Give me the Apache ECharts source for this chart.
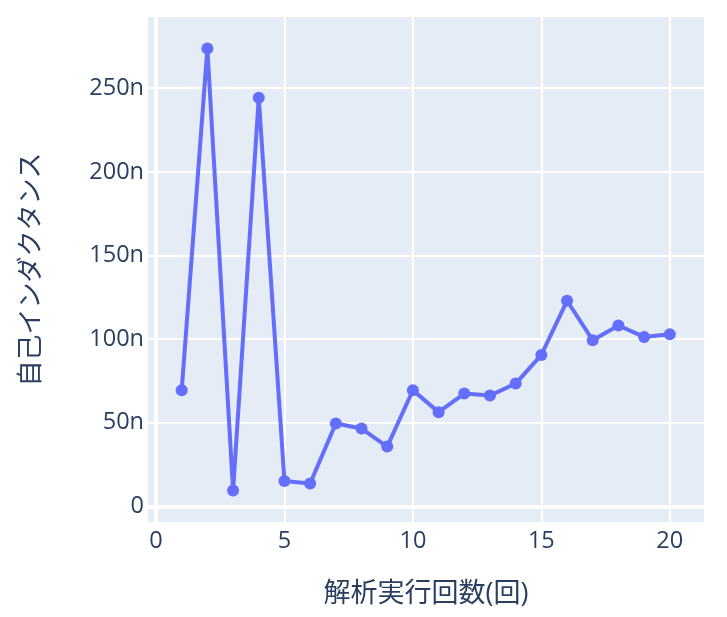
<!DOCTYPE html>
<html>
<head>
<meta charset="utf-8">
<script src="https://cdn.jsdelivr.net/npm/echarts@6/dist/echarts.min.js"></script>
<style>
html,body{margin:0;padding:0;background:#fff;}
#chart{width:727px;height:617px;}
</style>
</head>
<body>
<div id="chart"></div>
<script>
const runs = [1,2,3,4,5,6,7,8,9,10,11,12,13,14,15,16,17,18,19,20];
const inductanceN = [69.4,273.7,9.4,244.3,15.1,13.6,49.5,46.5,35.7,69.4,56.3,67.4,66.2,73.4,90.5,122.9,99.3,108.1,101.3,102.9];
const xTitle = '解析実行回数(回)';
const yTitle = '自己インダクタンス';

const FONT = '"Open Sans", "Noto Sans CJK JP", sans-serif';
const TXT = '#2a3f5f';
const chart = echarts.init(document.getElementById('chart'));
chart.setOption({
  animation: false,
  backgroundColor: '#ffffff',
  grid: {left: 147, right: 22, top: 16, bottom: 94, backgroundColor: '#E5ECF6', show: true, borderWidth: 0},
  xAxis: {
    type: 'value', min: -0.35, max: 21.37,
    name: xTitle, nameLocation: 'middle', nameGap: 58,
    nameTextStyle: {fontFamily: FONT, fontSize: 27, color: TXT},
    axisLine: {show: false}, axisTick: {show: false},
    axisLabel: {margin: 7, fontFamily: FONT, fontSize: 23.5, color: TXT,
      formatter: v => (Math.abs(v - Math.round(v/5)*5) < 1e-6 ? String(Math.round(v)) : '')},
    splitLine: {show: true, lineStyle: {color: '#ffffff', width: 2}}
  },
  yAxis: {
    type: 'value', min: -10, max: 293.2,
    name: yTitle, nameLocation: 'middle', nameGap: 102, nameRotate: 90,
    nameTextStyle: {fontFamily: FONT, fontSize: 26, color: TXT},
    axisLine: {show: false}, axisTick: {show: false},
    axisLabel: {margin: 3, fontFamily: FONT, fontSize: 23.5, color: TXT,
      formatter: v => {
        const r = Math.round(v/50)*50;
        if (Math.abs(v - r) > 1e-6) return '';
        return r === 0 ? '0' : r + 'n';
      }},
    splitLine: {show: true, lineStyle: {color: '#ffffff', width: 2}}
  },
  series: [{
    type: 'line',
    data: runs.map((x, i) => [x, inductanceN[i]]),
    symbol: 'circle', symbolSize: 12,
    lineStyle: {color: '#636EFA', width: 4},
    itemStyle: {color: '#636EFA'},
    markLine: {
      silent: true, symbol: 'none', label: {show: false}, z: 1,
      lineStyle: {color: '#ffffff', width: 4, type: 'solid'},
      data: [{xAxis: 0}, {yAxis: 0}]
    }
  }]
});
</script>
</body>
</html>
